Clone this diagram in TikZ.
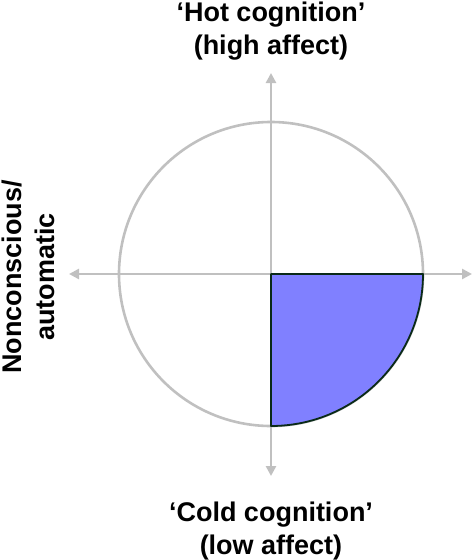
\documentclass[tikz,border=0pt]{standalone}
\usepackage{fontspec}
\setmainfont{Liberation Sans}
\usetikzlibrary{arrows.meta}

\definecolor{axisgray}{HTML}{C0C0C0}
\definecolor{quadblue}{HTML}{8080FF}
\definecolor{quadedge}{HTML}{0A2A18}

\begin{document}
\begin{tikzpicture}[
  x=1pt,
  y=-1pt,
  axis/.style={
    draw=axisgray,
    line width=2.6pt,
    {Triangle[length=10pt,width=10pt]}-{Triangle[length=10pt,width=10pt]}
  },
  ring/.style={draw=axisgray, line width=2.6pt},
  quad/.style={fill=quadblue, draw=quadedge, line width=1.8pt, line join=round},
  lbl/.style={font=\bfseries\fontsize{27}{33}\selectfont, align=center, inner sep=0pt}
]
\useasboundingbox (0,0) rectangle (474,560);

\coordinate (c) at (271,274);
\coordinate (top) at (271,73);
\coordinate (bot) at (271,476);
\coordinate (lft) at (69,274);
\coordinate (rgt) at (472,274);

% circle and axes
\draw[ring] (c) circle[radius=152];
\draw[axis] (bot) -- (top);
\draw[axis] (lft) -- (rgt);

% highlighted quadrant
\draw[quad] (c) -- ++(152,0) arc[start angle=0, end angle=90, radius=152] -- cycle;

% labels
\node[lbl, anchor=north] (hot) at (271,2) {‘Hot cognition’\\(high affect)};
\node[lbl, anchor=south] (cold) at (271,560) {‘Cold cognition’\\(low affect)};
\node[lbl, rotate=90] (auto) at (28,277) {Nonconscious/\\automatic};
\end{tikzpicture}
\end{document}
